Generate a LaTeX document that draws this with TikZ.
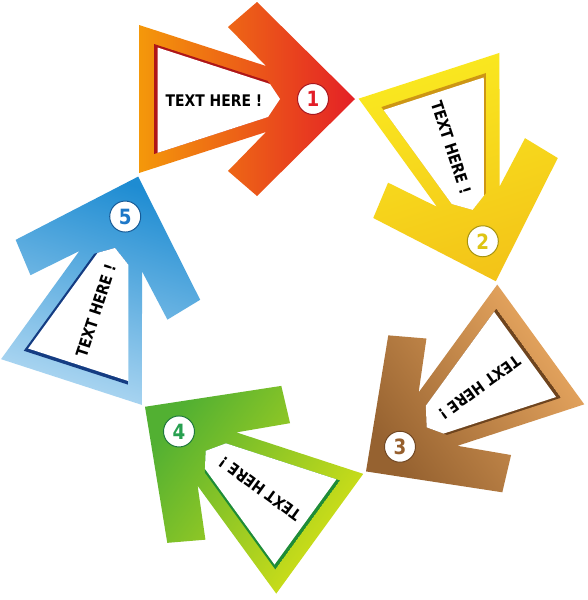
\documentclass[tikz,border=0pt]{standalone}
\usepackage{fontspec}
\setmainfont{Liberation Sans}
\newfontfamily\heavyfont[FakeStretch=0.87]{DejaVu Sans Bold}
\definecolor{tailA}{RGB}{244,152,10}
\definecolor{headA}{RGB}{228,32,38}
\definecolor{bevA}{RGB}{175,22,24}
\definecolor{numA}{RGB}{226,30,40}
\definecolor{tailB}{RGB}{250,233,32}
\definecolor{headB}{RGB}{243,196,24}
\definecolor{bevB}{RGB}{205,150,20}
\definecolor{numB}{RGB}{222,196,20}
\definecolor{tailC}{RGB}{236,170,98}
\definecolor{headC}{RGB}{150,98,48}
\definecolor{bevC}{RGB}{110,68,30}
\definecolor{numC}{RGB}{150,95,45}
\definecolor{tailD}{RGB}{216,226,22}
\definecolor{headD}{RGB}{82,176,50}
\definecolor{bevD}{RGB}{30,140,55}
\definecolor{numD}{RGB}{40,160,80}
\definecolor{tailE}{RGB}{176,216,242}
\definecolor{headE}{RGB}{30,140,210}
\definecolor{bevE}{RGB}{20,60,130}
\definecolor{numE}{RGB}{30,120,200}
\newcommand\arrowouter{(355,99) -- (257,2) -- (228,27) -- (266,66) -- (139,25) -- (139,173) -- (266,132) -- (228,171) -- (257,196) -- cycle}
\newcommand\arrowinner{(154,44) -- (268,81) -- (280,99) -- (268,117) -- (154,154) -- cycle}
\newcommand\onearrow[6]{%
  \pgfmathsetmacro\myshadeang{90+#1}%
  \begin{scope}[rotate around={#1:(300,287)}]
    \shade[left color=#2, right color=#3, shading angle=\myshadeang] \arrowouter;
    \begin{scope}
      \clip \arrowinner;
      \fill[#4] \arrowinner;
      \fill[white, shift={(3.5,3.5)}] \arrowinner;
    \end{scope}
    \node[txt, anchor=base] (t#6) at (214,106) {TEXT HERE !};
    \node[num=#5] (n#6) at (313,99) {#6};
  \end{scope}}
\begin{document}
\begin{tikzpicture}[x=1pt,y=-1pt,
  txt/.style={font=\heavyfont\fontsize{16}{16}\selectfont, text=black, inner sep=0pt, transform shape},
  num/.style={circle, fill=white, draw=#1!75!black, line width=1pt, minimum size=31pt, inner sep=0pt,
    font=\heavyfont\fontsize{21}{21}\selectfont, text=#1}]
\fill[white] (0,0) rectangle (587,600);
\useasboundingbox (0,0) rectangle (587,600);
\onearrow{0}{tailA}{headA}{bevA}{numA}{1}
\onearrow{-72}{tailB}{headB}{bevB}{numB}{2}
\onearrow{-144}{tailC}{headC}{bevC}{numC}{3}
\onearrow{-216}{tailD}{headD}{bevD}{numD}{4}
\onearrow{-288}{tailE}{headE}{bevE}{numE}{5}
\end{tikzpicture}
\end{document}
